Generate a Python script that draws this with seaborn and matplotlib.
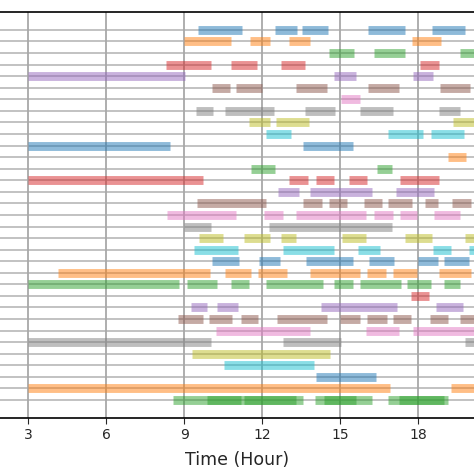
import matplotlib
matplotlib.use("Agg")
import matplotlib.pyplot as plt
import seaborn as sns

# start / end hour of each busy interval, one list per row (top to bottom)
starts = [
    [9.54, 12.5, 13.54, 16.08, 18.54],
    [9.0, 11.54, 13.04, 17.77],
    [14.58, 16.3, 19.6],
    [8.3, 10.8, 12.73, 18.08],
    [3.0, 14.77, 17.8],
    [10.08, 11.0, 13.3, 16.08, 18.85],
    [15.04],
    [9.46, 10.58, 13.65, 15.77, 18.8],
    [11.5, 12.54, 19.35],
    [12.15, 16.85, 18.5],
    [3.0, 13.58],
    [19.15],
    [11.58, 16.42],
    [3.0, 13.04, 14.08, 15.35, 17.3],
    [12.62, 13.85, 17.15],
    [9.5, 13.58, 14.58, 15.92, 16.85, 18.27, 19.3],
    [8.35, 12.08, 13.3, 16.3, 17.3, 18.6],
    [9.0, 12.27],
    [9.58, 11.3, 12.73, 15.08, 17.5, 19.8],
    [9.38, 12.8, 15.7, 18.58, 19.96],
    [10.08, 11.9, 13.7, 16.1, 18.0, 19.0],
    [4.15, 10.58, 11.85, 13.85, 16.04, 17.04, 18.8],
    [3.0, 9.1, 10.8, 12.15, 14.77, 15.77, 17.58, 19.0],
    [17.73],
    [9.27, 10.27, 14.27, 18.7],
    [8.77, 9.96, 11.2, 12.58, 15.0, 16.04, 17.04, 18.46, 19.6],
    [10.23, 16.0, 17.8],
    [3.0, 12.8, 19.8],
    [9.3],
    [10.54],
    [14.08],
    [3.0, 19.27],
    [8.58, 14.04, 16.85, 9.9, 11.3, 14.38, 17.27],
]
ends = [
    [11.23, 13.35, 14.54, 17.5, 19.8],
    [10.8, 12.3, 13.85, 18.88],
    [15.54, 17.5, 20.3],
    [10.04, 11.8, 13.65, 18.8],
    [9.04, 15.6, 18.58],
    [10.77, 12.0, 14.5, 17.27, 20.0],
    [15.77],
    [10.1, 12.46, 14.8, 17.04, 19.6],
    [12.3, 13.8, 20.3],
    [13.1, 18.2, 19.77],
    [8.46, 15.5],
    [19.85],
    [12.5, 17.0],
    [9.73, 13.77, 14.77, 16.04, 18.8],
    [13.42, 16.23, 18.62],
    [12.15, 14.3, 15.27, 16.6, 17.77, 18.77, 20.04],
    [11.0, 12.8, 16.0, 17.04, 17.96, 19.6],
    [10.04, 17.0],
    [10.5, 12.3, 13.3, 16.0, 18.54, 20.3],
    [11.08, 14.77, 16.54, 19.27, 20.3],
    [11.1, 12.7, 15.5, 17.08, 18.77, 19.96],
    [10.0, 11.58, 12.96, 15.77, 16.77, 17.96, 20.04],
    [8.8, 10.27, 11.5, 14.35, 15.5, 17.35, 18.5, 19.6],
    [18.42],
    [9.88, 11.08, 17.2, 19.73],
    [9.73, 10.85, 11.85, 14.5, 15.77, 16.8, 17.73, 19.15, 20.3],
    [13.85, 17.27, 20.3],
    [10.04, 15.04, 20.3],
    [14.6],
    [14.0],
    [16.38],
    [16.92, 20.3],
    [13.58, 16.23, 19.15, 11.2, 13.3, 15.6, 19.0],
]
ticks = [3, 6, 9, 12, 15, 18]

sns.set_style("white")
palette = sns.color_palette("tab10")

fig = plt.figure(figsize=(4.74, 4.74), dpi=100)
ax = fig.add_axes([0.0, 0.118, 1.0, 0.857])

n = len(starts)
for i in range(n):
    ax.axhline(i, color="#b8b8b8", lw=1.2, zorder=1)
    ax.hlines([i] * len(starts[i]), starts[i], ends[i],
              color=palette[i % 10], lw=6.4, alpha=0.5, zorder=2)

for t in ticks:
    ax.axvline(t, color="#a8a8a8", lw=1.3, zorder=1.5)

ax.set_xlim(1.92, 20.15)
ax.set_ylim(n - 1 + 1.56, -1.56)
ax.set_xticks(ticks)
ax.set_yticks([])
ax.tick_params(axis="x", direction="out", length=4, labelsize=10, bottom=True)
for side in ["left", "right"]:
    ax.spines[side].set_visible(False)
for side in ["top", "bottom"]:
    ax.spines[side].set_color("black")
    ax.spines[side].set_linewidth(1.2)
ax.set_xlabel("Time (Hour)", fontsize=12.5, labelpad=6)

fig.savefig("out.png", dpi=100)
